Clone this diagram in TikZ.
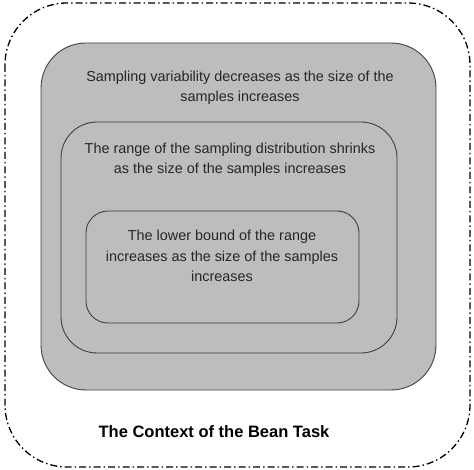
\documentclass[tikz,border=0pt]{standalone}
\usepackage{fontspec}
\setmainfont{Liberation Sans}
\definecolor{boxfill}{HTML}{BDBDBD}
\definecolor{boxline}{HTML}{404040}

\begin{document}
\begin{tikzpicture}[x=1pt,y=-1pt,line width=.9pt,
  box/.style={draw=boxline,fill=boxfill},
  txt/.style={align=center,font=\fontsize{14.4}{20.5}\selectfont,text=black!85}]
\useasboundingbox (0,0) rectangle (474,470);
\draw[black,line width=1.3pt,rounded corners=62pt,dash pattern=on 7pt off 3pt on 1.5pt off 3pt] (5,3) rectangle (470,467);
\draw[box,rounded corners=45pt] (41,43) rectangle (436,390);
\draw[box,rounded corners=36pt] (61,122) rectangle (397,353);
\draw[box,rounded corners=22pt] (86,211) rectangle (359,323);
\node[txt] (var) at (240,88) {Sampling variability decreases as the size of the\\samples increases};
\node[txt] (range) at (230,160) {The range of the sampling distribution shrinks\\as the size of the samples increases};
\node[txt] (bound) at (222,256) {The lower bound of the range\\increases as the size of the samples\\increases};
\node[font=\fontsize{16.5}{18}\bfseries\selectfont] (title) at (214,432) {The Context of the Bean Task};
\end{tikzpicture}
\end{document}
